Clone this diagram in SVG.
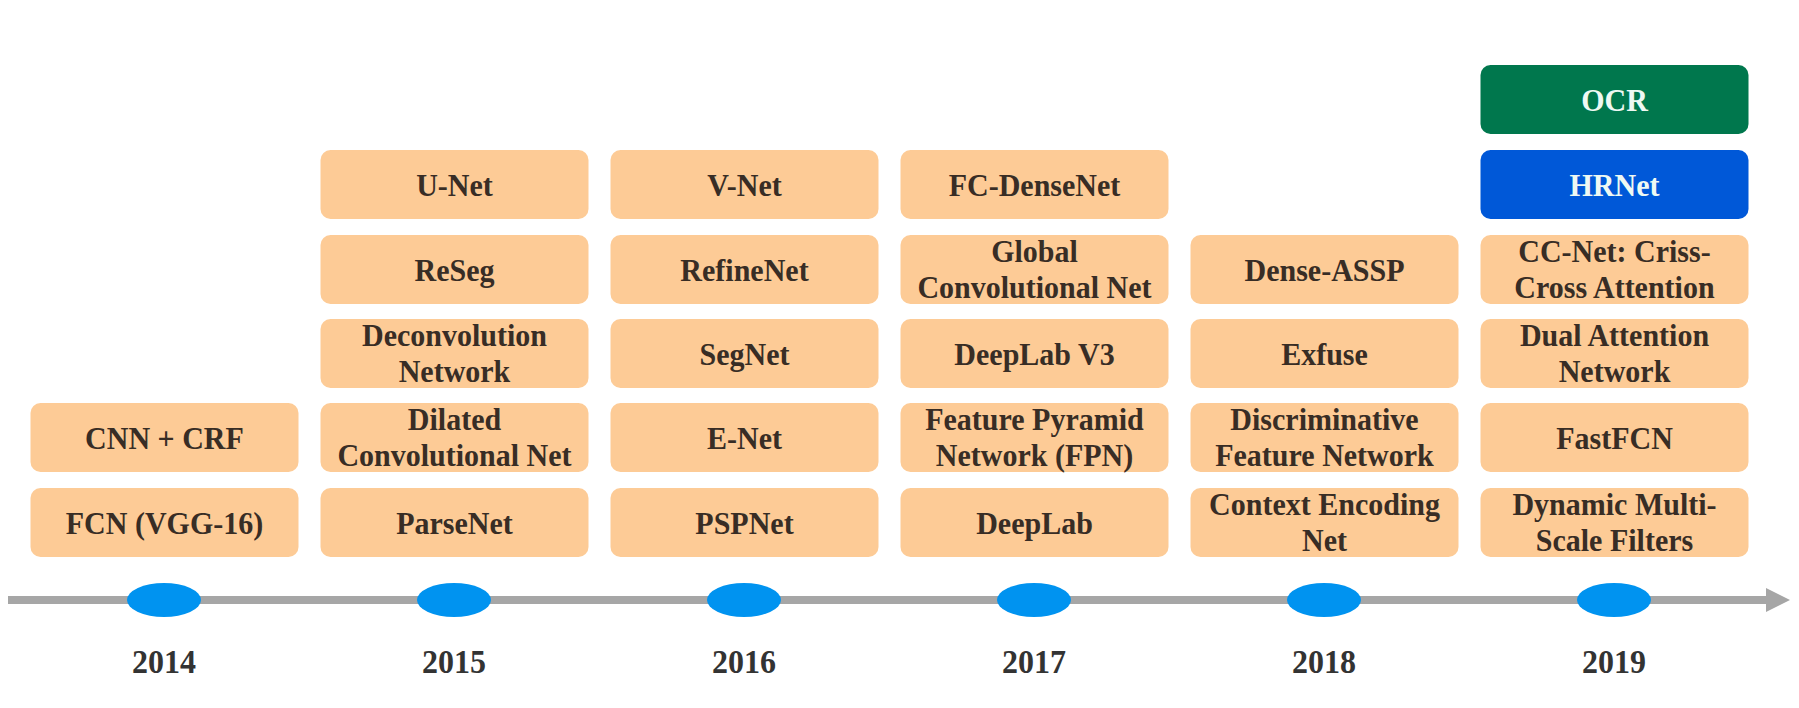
<svg xmlns="http://www.w3.org/2000/svg" width="1799" height="708" viewBox="0 0 1799 708">
<style>
.b{fill:#FDCB96}
.t{font-family:"Liberation Serif","Times New Roman",serif;font-weight:bold;font-size:30px;fill:#382d25;text-anchor:middle;transform-box:fill-box;transform-origin:50% 50%;transform:scaleY(1.08)}
.y{font-family:"Liberation Serif","Times New Roman",serif;font-weight:bold;font-size:32px;fill:#333;text-anchor:middle;transform-box:fill-box;transform-origin:50% 50%;transform:scaleY(1.05)}
.w{fill:#eef9f3}
.dot{fill:#0093F0}
</style>
<defs>
<marker id="ah" markerWidth="24" markerHeight="24" refX="0" refY="12" orient="auto" markerUnits="userSpaceOnUse">
<path d="M0,0 L24,12 L0,24 Z" fill="#A6A6A6"/>
</marker>
</defs>
<rect width="1799" height="708" fill="#fff"/>
<g id="connectors">
<line x1="8" y1="600" x2="1766" y2="600" stroke="#A6A6A6" stroke-width="8" marker-end="url(#ah)"/>
</g>
<g id="y2014"><ellipse class="dot" cx="164" cy="600" rx="37" ry="17"/><text class="y" x="164" y="672">2014</text></g>
<g id="y2015"><ellipse class="dot" cx="454" cy="600" rx="37" ry="17"/><text class="y" x="454" y="672">2015</text></g>
<g id="y2016"><ellipse class="dot" cx="744" cy="600" rx="37" ry="17"/><text class="y" x="744" y="672">2016</text></g>
<g id="y2017"><ellipse class="dot" cx="1034" cy="600" rx="37" ry="17"/><text class="y" x="1034" y="672">2017</text></g>
<g id="y2018"><ellipse class="dot" cx="1324" cy="600" rx="37" ry="17"/><text class="y" x="1324" y="672">2018</text></g>
<g id="y2019"><ellipse class="dot" cx="1614" cy="600" rx="37" ry="17"/><text class="y" x="1614" y="672">2019</text></g>
<g id="cnncrf"><rect class="b" x="30.5" y="403" width="268" height="69" rx="10"/><text class="t" x="164.5" y="448">CNN + CRF</text></g>
<g id="fcn"><rect class="b" x="30.5" y="488" width="268" height="69" rx="10"/><text class="t" x="164.5" y="533">FCN (VGG-16)</text></g>
<g id="unet"><rect class="b" x="320.5" y="150" width="268" height="69" rx="10"/><text class="t" x="454.5" y="195">U-Net</text></g>
<g id="reseg"><rect class="b" x="320.5" y="235" width="268" height="69" rx="10"/><text class="t" x="454.5" y="280">ReSeg</text></g>
<g id="deconv"><rect class="b" x="320.5" y="319" width="268" height="69" rx="10"/><text class="t" x="454.5" y="345.5">Deconvolution</text><text class="t" x="454.5" y="381.5">Network</text></g>
<g id="dilated"><rect class="b" x="320.5" y="403" width="268" height="69" rx="10"/><text class="t" x="454.5" y="429.5">Dilated</text><text class="t" x="454.5" y="465.5">Convolutional Net</text></g>
<g id="parsenet"><rect class="b" x="320.5" y="488" width="268" height="69" rx="10"/><text class="t" x="454.5" y="533">ParseNet</text></g>
<g id="vnet"><rect class="b" x="610.5" y="150" width="268" height="69" rx="10"/><text class="t" x="744.5" y="195">V-Net</text></g>
<g id="refinenet"><rect class="b" x="610.5" y="235" width="268" height="69" rx="10"/><text class="t" x="744.5" y="280">RefineNet</text></g>
<g id="segnet"><rect class="b" x="610.5" y="319" width="268" height="69" rx="10"/><text class="t" x="744.5" y="364">SegNet</text></g>
<g id="enet"><rect class="b" x="610.5" y="403" width="268" height="69" rx="10"/><text class="t" x="744.5" y="448">E-Net</text></g>
<g id="pspnet"><rect class="b" x="610.5" y="488" width="268" height="69" rx="10"/><text class="t" x="744.5" y="533">PSPNet</text></g>
<g id="fcdensenet"><rect class="b" x="900.5" y="150" width="268" height="69" rx="10"/><text class="t" x="1034.5" y="195">FC-DenseNet</text></g>
<g id="gcn"><rect class="b" x="900.5" y="235" width="268" height="69" rx="10"/><text class="t" x="1034.5" y="261.5">Global</text><text class="t" x="1034.5" y="297.5">Convolutional Net</text></g>
<g id="deeplabv3"><rect class="b" x="900.5" y="319" width="268" height="69" rx="10"/><text class="t" x="1034.5" y="364">DeepLab V3</text></g>
<g id="fpn"><rect class="b" x="900.5" y="403" width="268" height="69" rx="10"/><text class="t" x="1034.5" y="429.5">Feature Pyramid</text><text class="t" x="1034.5" y="465.5">Network (FPN)</text></g>
<g id="deeplab"><rect class="b" x="900.5" y="488" width="268" height="69" rx="10"/><text class="t" x="1034.5" y="533">DeepLab</text></g>
<g id="denseassp"><rect class="b" x="1190.5" y="235" width="268" height="69" rx="10"/><text class="t" x="1324.5" y="280">Dense-ASSP</text></g>
<g id="exfuse"><rect class="b" x="1190.5" y="319" width="268" height="69" rx="10"/><text class="t" x="1324.5" y="364">Exfuse</text></g>
<g id="dfn"><rect class="b" x="1190.5" y="403" width="268" height="69" rx="10"/><text class="t" x="1324.5" y="429.5">Discriminative</text><text class="t" x="1324.5" y="465.5">Feature Network</text></g>
<g id="encnet"><rect class="b" x="1190.5" y="488" width="268" height="69" rx="10"/><text class="t" x="1324.5" y="514.5">Context Encoding</text><text class="t" x="1324.5" y="550.5">Net</text></g>
<g id="ocr"><rect x="1480.5" y="65" width="268" height="69" rx="10" fill="#00774D"/><text class="t w" x="1614.5" y="110">OCR</text></g>
<g id="hrnet"><rect x="1480.5" y="150" width="268" height="69" rx="10" fill="#0058D8"/><text class="t w" x="1614.5" y="195">HRNet</text></g>
<g id="ccnet"><rect class="b" x="1480.5" y="235" width="268" height="69" rx="10"/><text class="t" x="1614.5" y="261.5">CC-Net: Criss-</text><text class="t" x="1614.5" y="297.5">Cross Attention</text></g>
<g id="danet"><rect class="b" x="1480.5" y="319" width="268" height="69" rx="10"/><text class="t" x="1614.5" y="345.5">Dual Attention</text><text class="t" x="1614.5" y="381.5">Network</text></g>
<g id="fastfcn"><rect class="b" x="1480.5" y="403" width="268" height="69" rx="10"/><text class="t" x="1614.5" y="448">FastFCN</text></g>
<g id="dmnet"><rect class="b" x="1480.5" y="488" width="268" height="69" rx="10"/><text class="t" x="1614.5" y="514.5">Dynamic Multi-</text><text class="t" x="1614.5" y="550.5">Scale Filters</text></g>
</svg>
